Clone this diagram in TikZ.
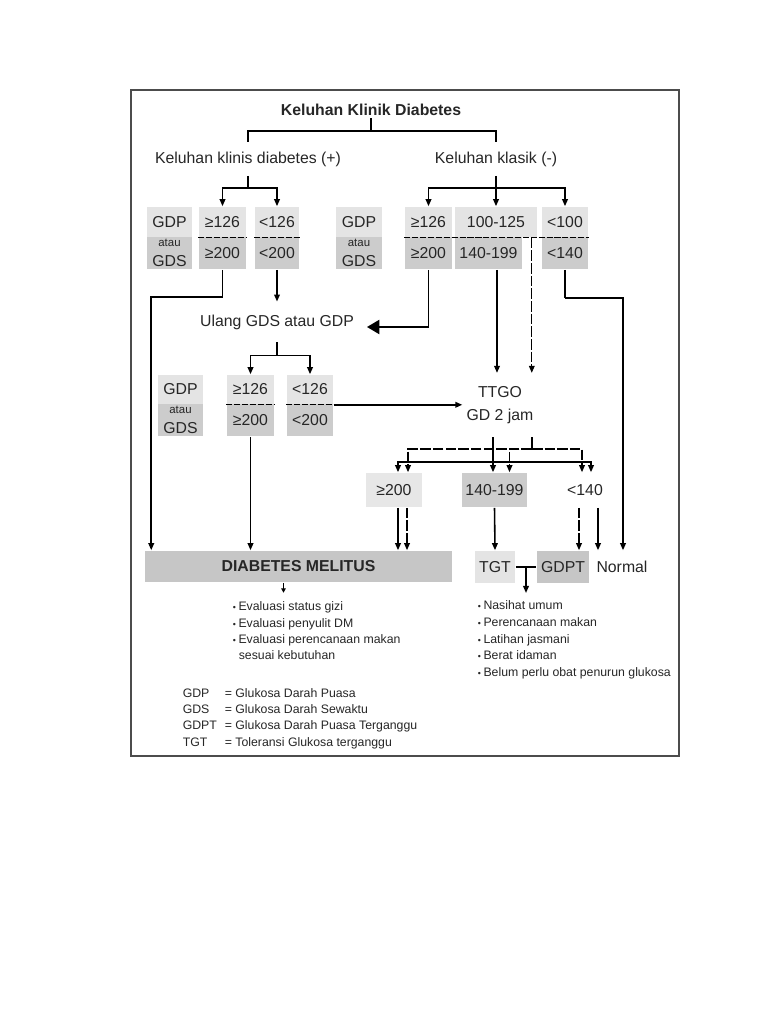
\documentclass[tikz,border=0pt]{standalone}
\usepackage{fontspec}
\setmainfont{Liberation Sans}
\usetikzlibrary{positioning,arrows.meta,calc}

\definecolor{abumuda}{RGB}{228,228,228}
\definecolor{abutua}{RGB}{204,204,204}
\definecolor{abugelap}{RGB}{198,198,198}

\tikzset{
  teks/.style={inner sep=5pt, text=black!85, font=\fontsize{9}{11}\selectfont},
  atas/.style={fill=abumuda, inner sep=0pt, minimum height=0.6cm, text=black!85, font=\fontsize{9}{11}\selectfont},
  bawah/.style={fill=abutua, inner sep=0pt, minimum height=0.64cm, text=black!85, font=\fontsize{9}{11}\selectfont},
  kotak/.style={inner sep=0pt, minimum height=0.68cm, text=black!85, font=\fontsize{9}{11}\selectfont},
  kecil/.style={inner sep=0pt, anchor=base west, text=black!85, font=\fontsize{7}{9}\selectfont},
  garis/.style={dash pattern=on 3.5pt off 1pt, line width=0.8pt},
  putus/.style={dash pattern=on 6pt off 1.2pt, line width=0.8pt},
  besar/.style={-{Triangle[length=7pt,width=8pt]}, line width=1pt},
}
\newcommand{\atau}{{\fontsize{6.5}{6.5}\selectfont atau}}

\begin{document}
\begin{tikzpicture}[x=0.02cm, y=-0.02cm, line width=0.9pt,
    >={Triangle[length=4pt,width=3.2pt]}]
  \useasboundingbox (0,0) rectangle (768,1024);
  \draw[black!70, line width=1.1pt] (131,90) rectangle (679,756);

  % Judul dan cabang pertama
  \node[teks, inner sep=1pt, font=\fontsize{9}{11}\selectfont\bfseries] (judul) at (371,110) {Keluhan Klinik Diabetes};
  \node[teks] (kpos) at (248,159) {Keluhan klinis diabetes (+)};
  \node[teks] (kneg) at (496,159) {Keluhan klasik (-)};
  \draw (judul.south) -- ++(0,12.5) -| (kpos.north);
  \draw (judul.south) ++(0,12.5) -| (kneg.north);

  % Kotak kiri
  \node[atas, minimum width=0.9cm] (L1a) at (169.5,222) {GDP};
  \node[bawah, minimum width=0.9cm, align=center] (L1b) at (169.5,253) {\atau\\GDS};
  \foreach \x/\w/\nama/\up/\dn in {222.5/0.94/L2/≥126/≥200, 277/0.88/L3/<126/<200} {
    \node[atas, minimum width=\w cm] (\nama a) at (\x,222) {\up};
    \node[bawah, minimum width=\w cm] (\nama b) at (\x,253) {\dn};
    \draw[garis] (\nama a.south west) -- (\nama a.south east);
  }

  % Kotak kanan
  \node[atas, minimum width=0.92cm] (R1a) at (359,222) {GDP};
  \node[bawah, minimum width=0.92cm, align=center] (R1b) at (359,253) {\atau\\GDS};
  \node[atas, minimum width=0.94cm] (R2a) at (428.5,222) {≥126};
  \node[bawah, minimum width=0.94cm] (R2b) at (428.5,253) {≥200};
  \node[atas, minimum width=1.64cm] (R3a) at (496,222) {100-125};
  \node[bawah, minimum width=1.34cm] (R3b) at (488.5,253) {140-199};
  \node[atas, minimum width=0.92cm] (R4a) at (565,222) {<100};
  \node[bawah, minimum width=0.92cm] (R4b) at (565,253) {<140};
  \draw[garis] (R2a.south west) -- (R4a.south east);

  % Panah ke kotak atas
  \draw (kpos.south) -- ++(0,12) coordinate (cp);
  \foreach \n in {L2a,L3a} \draw[->] (cp) -| (\n.north);
  \draw (kneg.south) -- ++(0,12) coordinate (cn);
  \foreach \n in {R2a,R3a,R4a} \draw[->] (cn) -| (\n.north);

  % Ulang GDS atau GDP
  \node[teks, inner sep=7pt] (ulang) at (277,322) {Ulang GDS atau GDP};
  \draw[->] (L3b.south) -- (L3b.south |- ulang.north);
  \draw[besar] (R2b.south) |- ([yshift=-0.1cm]ulang.east);

  % Kotak tengah
  \node[atas, minimum width=0.9cm, minimum height=0.58cm] (M1a) at (180.5,389.5) {GDP};
  \node[bawah, minimum width=0.9cm, align=center] (M1b) at (180.5,420) {\atau\\GDS};
  \foreach \x/\w/\nama/\up/\dn in {250.5/0.94/M2/≥126/≥200, 310/0.92/M3/<126/<200} {
    \node[atas, minimum width=\w cm, minimum height=0.58cm] (\nama a) at (\x,389.5) {\up};
    \node[bawah, minimum width=\w cm] (\nama b) at (\x,420) {\dn};
    \draw[garis] (\nama a.south west) -- (\nama a.south east);
  }
  \draw (ulang.south) -- ++(0,13) coordinate (cu);
  \foreach \n in {M2a,M3a} \draw[->] (cu) -| (\n.north);

  % TTGO
  \node[teks, inner xsep=2pt, inner ysep=7pt, align=center, font=\fontsize{9}{13.5}\selectfont] (ttgo) at (500,405) {TTGO\\GD 2 jam};
  \draw[->] (M3a.south east) -- (M3a.south east -| ttgo.west);
  \coordinate (r3s) at ($(R3b.south)+(8.5,0)$);
  \draw[->] (r3s) -- (r3s |- ttgo.north);
  \coordinate (r3d) at ($(R3a.south east)+(-6,0)$);
  \draw[putus,->] (r3d) -- (r3d |- ttgo.north);
  \draw (R4b.south) -- ++(0,28) coordinate (cr);

  % Hasil TTGO
  \node[kotak, fill=abumuda!90, minimum width=1.12cm] (B1) at (394,490) {≥200};
  \node[kotak, fill=abutua, minimum width=1.3cm] (B2) at (494.5,490) {140-199};
  \node[kotak] (B3) at (585,490) {<140};
  \coordinate (tp) at (493,462);
  \coordinate (tq) at (532,449);
  \draw[->] (ttgo.south -| tp) -- (tp |- B2.north);
  \draw[->] (tp) -| ($(B1.north)+(4,0)$);
  \draw[->] (tp) -| ($(B3.north)+(6,0)$);
  \draw[putus] (ttgo.south -| tq) -- (tq);
  \draw[putus,->] (tq) -| ($(B1.north)+(14,0)$);
  \draw[putus,->] (tq) -| ($(B2.north)+(15,0)$);
  \draw[putus,->] (tq) -| ($(B3.north)+(-3,0)$);

  % Diagnosis
  \node[kotak, fill=abugelap, minimum width=6.14cm, minimum height=0.62cm, font=\fontsize{9}{11}\selectfont\bfseries] (dm) at (298.5,566.5) {DIABETES MELITUS};
  \node[kotak, fill=abumuda, minimum width=0.8cm, minimum height=0.64cm] (tgt) at (495,567) {TGT};
  \node[kotak, fill=abugelap, minimum width=1.04cm, minimum height=0.64cm] (gdpt) at (563,567) {GDPT};
  \node[kotak, minimum height=0.64cm] (normal) at (622,567) {Normal};

  \coordinate (dmk) at ($(dm.north west)+(7,0)$);
  \draw[->] (L2b.south) -- ++(0,27) -| (dmk);
  \draw[->] (M2b.south) -- (M2b.south |- dm.north);
  \coordinate (b1s) at ($(B1.south)+(4,0)$);
  \coordinate (b1d) at ($(B1.south)+(13,0)$);
  \draw[->] (b1s) -- (b1s |- dm.north);
  \draw[putus,->] (b1d) -- (b1d |- dm.north);
  \draw[->] (B2.south) -- (tgt.north);
  \coordinate (b3k) at ($(B3.south)+(-6,0)$);
  \coordinate (b3n) at ($(B3.south)+(13,0)$);
  \draw[putus,->] (b3k) -- (b3k |- gdpt.north);
  \draw[->] (b3n) -- (b3n |- tgt.north);
  \draw[->] (cr) -| ($(normal.north)+(1,0)$);

  % Panah ke daftar
  \coordinate (dmt) at ($(dm.south)+(-15,0)$);
  \coordinate (dmt2) at ($(dmt)+(0,10)$);
  \draw[->, line width=0.6pt, >={Triangle[length=2.5pt,width=2.5pt]}] (dmt) -- (dmt2);
  \draw (tgt.east) -- (gdpt.west);
  \coordinate (tg) at ($(tgt.east)!0.5!(gdpt.west)$);
  \coordinate (tg2) at ($(tg)+(0,26)$);
  \draw[->] (tg) -- (tg2);

  % Daftar kiri
  \foreach \y/\isi in {610/Evaluasi status gizi, 627/Evaluasi penyulit DM, 643/Evaluasi perencanaan makan} {
    \node[kecil] (ki\y) at (232,\y) {{\fontsize{5}{5}\selectfont\textbullet}\hspace{1.5pt}\isi};
  }
  \node[kecil] (ki659) at (238,659) {sesuai kebutuhan};

  % Daftar kanan
  \foreach \y/\isi in {609/Nasihat umum, 626/Perencanaan makan, 643/Latihan jasmani, 659/Berat idaman, 676/Belum perlu obat penurun glukosa} {
    \node[kecil] (ka\y) at (477,\y) {{\fontsize{5}{5}\selectfont\textbullet}\hspace{1.5pt}\isi};
  }

  % Keterangan
  \foreach \y/\sing/\isi in {697/GDP/Glukosa Darah Puasa, 713/GDS/Glukosa Darah Sewaktu, 729/GDPT/Glukosa Darah Puasa Terganggu, 746/TGT/Toleransi Glukosa terganggu} {
    \node[kecil] (s\sing) at (182,\y) {\sing};
    \node[kecil] (d\sing) at (224,\y) {= \isi};
  }
\end{tikzpicture}
\end{document}
